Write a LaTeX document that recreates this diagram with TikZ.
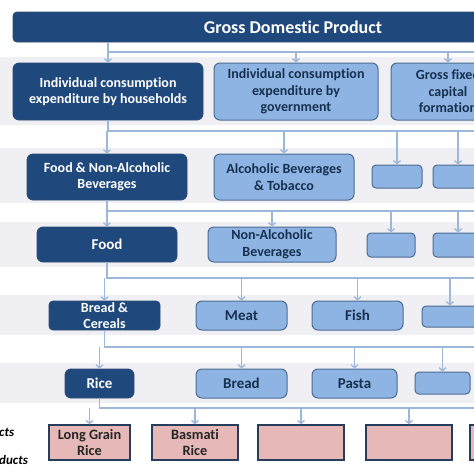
\documentclass[tikz,border=0pt]{standalone}
\usepackage{fontspec}
\setmainfont{Carlito}[Ligatures=CommonOff]
\usetikzlibrary{arrows.meta}
\definecolor{darkfill}{HTML}{1F497D}
\definecolor{darkedge}{HTML}{2A4A72}
\definecolor{lightfill}{HTML}{8DB4E2}
\definecolor{lightedge}{HTML}{4D6B91}
\definecolor{lighttext}{HTML}{17304F}
\definecolor{pinkfill}{HTML}{E6B8B7}
\definecolor{pinkedge}{HTML}{263D5E}
\definecolor{bandfill}{HTML}{EFEFF4}
\definecolor{linkcol}{HTML}{9DB7D8}
\newcommand{\bigfont}{\fontsize{18}{21}\selectfont\bfseries}
\newcommand{\midfont}{\fontsize{14}{16.5}\selectfont\bfseries}
\newcommand{\boxfont}{\fontsize{15}{16}\selectfont\bfseries}
\newcommand{\pinkfont}{\fontsize{14.3}{16}\selectfont\bfseries}

\begin{document}
\begin{tikzpicture}[x=1pt, y=-1pt,
    darkbox/.style={draw=darkedge, fill=darkfill, line width=0.8pt, rounded corners=6pt, text=white, align=center, inner sep=0pt},
    lightbox/.style={draw=lightedge, fill=lightfill, line width=1pt, rounded corners=6pt, text=lighttext, align=center, inner sep=0pt},
    pinkbox/.style={draw=pinkedge, fill=pinkfill, line width=1.5pt, text=black!85, align=center, inner sep=0pt, font=\pinkfont},
    link/.style={draw=linkcol, line width=1.3pt},
    arr/.style={link, -{Straight Barb[length=3pt, width=7pt]}}]
        \useasboundingbox (0,0) rectangle (474,474);
        \clip (0,0) rectangle (474,474);

        % bands
        \fill[bandfill] (0,57) rectangle (474,125);
        \fill[bandfill] (0,148) rectangle (474,203);
        \fill[bandfill] (0,222) rectangle (474,267);
        \fill[bandfill] (0,295) rectangle (474,335);
        \fill[bandfill] (0,363) rectangle (474,403);

        % bus lines
        \coordinate (bus1) at (480,52);
        \coordinate (bus2) at (480,131);
        \coordinate (bus3) at (480,211);
        \coordinate (bus4) at (480,278);
        \coordinate (bus5) at (480,347);
        \coordinate (bus6) at (480,408);

        % top
        \node[darkbox, rounded corners=4pt, minimum width=560pt, minimum height=30pt, font=\bigfont] (gdp) at (293,27) {Gross Domestic Product};

        % row 1
        \node[darkbox, minimum width=190pt, minimum height=57pt, font=\midfont] (hh) at (108,91.5) {Individual consumption\\expenditure by households};
        \node[lightbox, minimum width=164pt, minimum height=57pt, font=\midfont] (gov) at (296,91.5) {Individual consumption\\expenditure by\\government};
        \node[lightbox, minimum width=114pt, minimum height=57pt, font=\midfont] (gfcf) at (448,91.5) {Gross fixed\\capital\\formation};

        % row 2
        \node[darkbox, minimum width=160pt, minimum height=46pt, font=\midfont] (fnab) at (107,177) {Food \& Non-Alcoholic\\Beverages};
        \node[lightbox, minimum width=140pt, minimum height=46pt, font=\midfont] (abt) at (284,177) {Alcoholic Beverages\\\& Tobacco};
        \node[lightbox, rounded corners=4pt, minimum width=50pt, minimum height=23pt] (eA) at (397,176.5) {};
        \node[lightbox, rounded corners=4pt, minimum width=50pt, minimum height=23pt] (eB) at (458,176.5) {};

        % row 3
        \node[darkbox, minimum width=140pt, minimum height=35pt, font=\boxfont] (food) at (107,244.5) {Food};
        \node[lightbox, minimum width=128pt, minimum height=35pt, font=\midfont] (nab) at (272,244.5) {Non-Alcoholic\\Beverages};
        \node[lightbox, rounded corners=4pt, minimum width=48pt, minimum height=24pt] (eC) at (391,245) {};
        \node[lightbox, rounded corners=4pt, minimum width=50pt, minimum height=24pt] (eD) at (458,245) {};

        % row 4
        \node[darkbox, rounded corners=4pt, minimum width=111pt, minimum height=29pt, font=\midfont] (bc) at (104.5,315.5) {Bread \&\\[-1pt]Cereals};
        \node[lightbox, minimum width=91pt, minimum height=29pt, font=\boxfont] (meat) at (241.5,315.5) {Meat};
        \node[lightbox, minimum width=91pt, minimum height=29pt, font=\boxfont] (fish) at (357.5,315.5) {Fish};
        \node[lightbox, rounded corners=4pt, minimum width=56pt, minimum height=21pt] (eE) at (450,316.5) {};

        % row 5
        \node[darkbox, minimum width=69pt, minimum height=29pt, font=\boxfont] (rice) at (99.5,383.5) {Rice};
        \node[lightbox, minimum width=91pt, minimum height=29pt, font=\boxfont] (bread) at (241.5,383.5) {Bread};
        \node[lightbox, minimum width=85pt, minimum height=29pt, font=\boxfont] (pasta) at (354.5,383.5) {Pasta};
        \node[lightbox, rounded corners=4pt, minimum width=55pt, minimum height=22pt] (eF) at (442.5,383) {};

        % row 6
        \node[pinkbox, minimum width=81pt, minimum height=35pt] (lgr) at (89.5,442.5) {Long Grain\\Rice};
        \node[pinkbox, minimum width=86pt, minimum height=35pt] (bas) at (195,442.5) {Basmati\\Rice};
        \node[pinkbox, minimum width=86pt, minimum height=35pt] (pA) at (301,442.5) {};
        \node[pinkbox, minimum width=86pt, minimum height=35pt] (pB) at (409,442.5) {};
        \node[pinkbox, minimum width=86pt, minimum height=35pt] (pC) at (513,442.5) {};

        % side labels
        \node[anchor=west, inner sep=0pt, font=\fontsize{13}{15}\selectfont\bfseries\itshape] (lab1) at (-1,432) {cts};
        \node[anchor=west, inner sep=0pt, font=\fontsize{13}{15}\selectfont\bfseries\itshape] (lab2) at (-1,460) {ducts};

        % links
        \draw[link] (gdp.south -| hh.north) |- (bus1);
        \foreach \c in {hh, gov, gfcf} \draw[arr] (\c.north |- bus1) -- (\c.north);
        \draw[link] (hh.south) |- (bus2);
        \foreach \c in {fnab, abt, eA, eB} \draw[arr] (\c.north |- bus2) -- (\c.north);
        \draw[link] (fnab.south) |- (bus3);
        \foreach \c in {food, nab, eC, eD} \draw[arr] (\c.north |- bus3) -- (\c.north);
        \draw[link] (food.south) |- (bus4);
        \foreach \c in {bc, meat, fish, eE} \draw[arr] (\c.north |- bus4) -- (\c.north);
        \draw[link] (bc.south) |- (bus5);
        \foreach \c in {rice, bread, pasta, eF} \draw[arr] (\c.north |- bus5) -- (\c.north);
        \draw[link] (rice.south) |- (bus6);
        \foreach \c in {lgr, bas, pA, pB} \draw[arr] (\c.north |- bus6) -- (\c.north);
    \end{tikzpicture}
\end{document}
